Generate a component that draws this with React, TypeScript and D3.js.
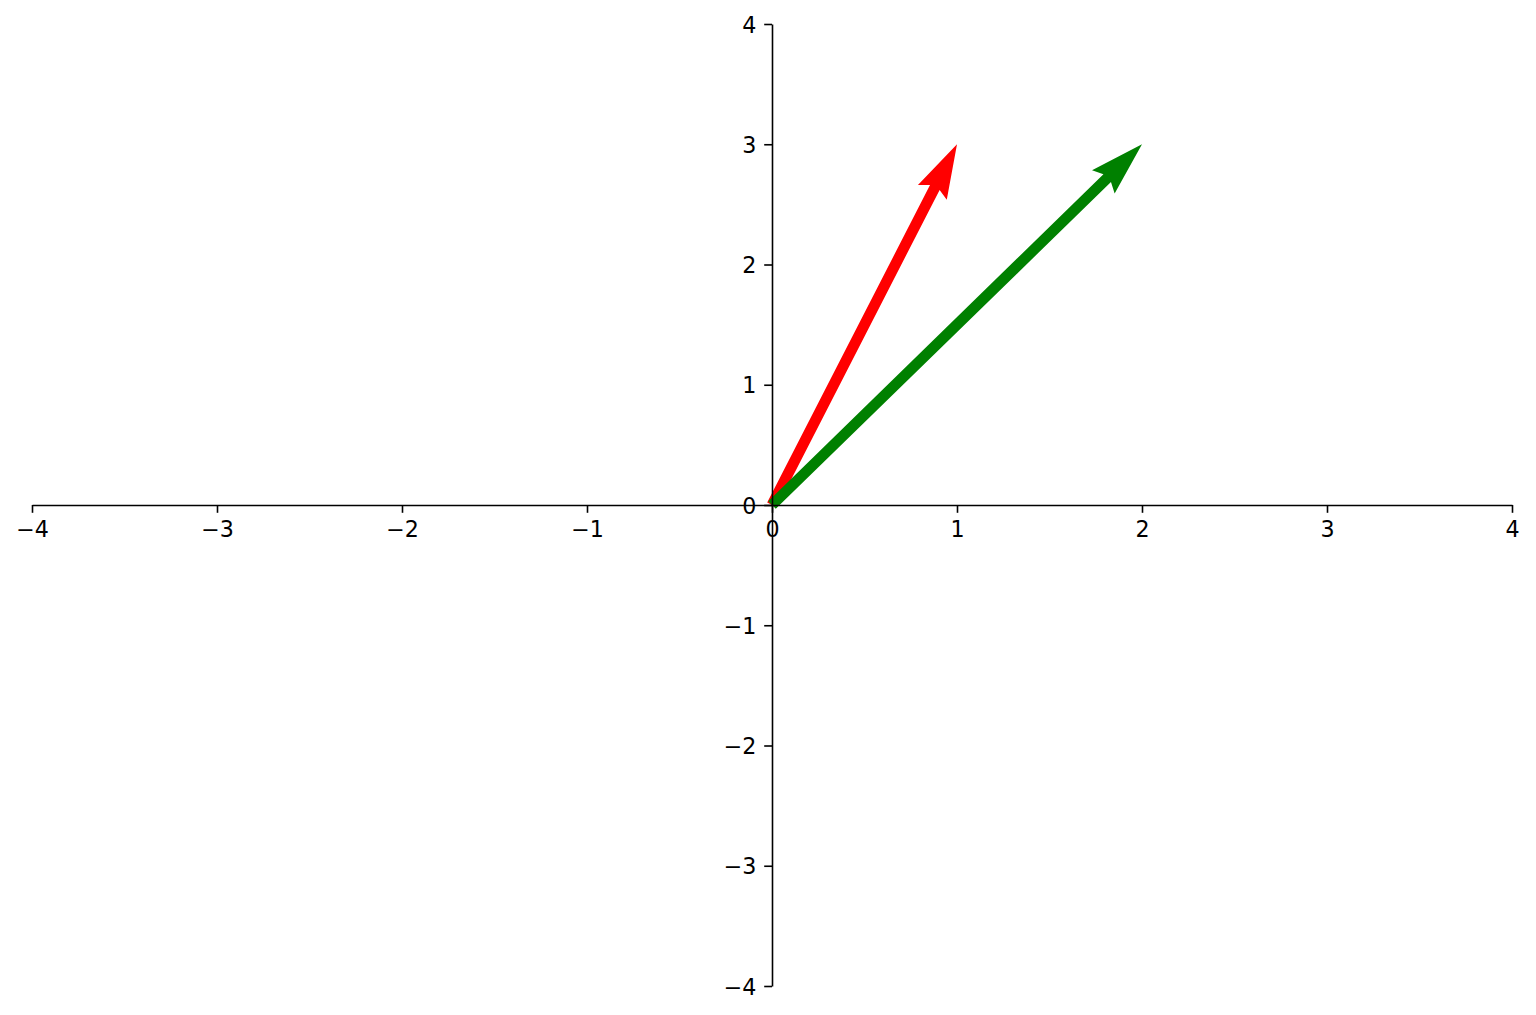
import { useEffect, useRef } from 'react';
import * as d3 from 'd3';

// ─── Data ───────────────────────────────────────────────────

const ORIGINS_X = [0, 0];
const ORIGINS_Y = [0, 0];
const VEC_U = [1, 2];
const VEC_V = [3, 3];
const VEC_COLORS = ['#ff0000', '#008000'];
const TICKS = [-4, -3, -2, -1, 0, 1, 2, 3, 4];

// ─── Layout ─────────────────────────────────────────────────

const W = 1536;
const H = 1015;
const PLOT = { left: 32, right: 1512, top: 24, bottom: 986 };
const FONT = '"DejaVu Sans", sans-serif';
const FONT_SIZE = 22.2;
const TICK_LEN = 7.8;
const TICK_PAD = 7.8;
const LINE_W = 1.6;
const SHAFT_W = 10.8;

const fmt = (v: number) => (v < 0 ? `\u2212${Math.abs(v)}` : `${v}`);

export default function App() {
  const svgRef = useRef<SVGSVGElement>(null);

  useEffect(() => {
    if (!svgRef.current) return;
    const svg = d3.select(svgRef.current);
    svg.selectAll('*').remove();

    const x = d3.scaleLinear().domain([-4, 4]).range([PLOT.left, PLOT.right]);
    const y = d3.scaleLinear().domain([-4, 4]).range([PLOT.bottom, PLOT.top]);

    svg.append('rect').attr('width', W).attr('height', H).attr('fill', '#fff');

    // Arrows (quiver-style polygons: shaft + head)
    const data = VEC_U.map((u, i) => ({
      x0: ORIGINS_X[i], y0: ORIGINS_Y[i], u, v: VEC_V[i], color: VEC_COLORS[i],
    }));
    const w = SHAFT_W;
    const hl = 5 * w, hal = 4.5 * w, hw = 1.5 * w;
    svg.append('g')
      .selectAll('path')
      .data(data)
      .join('path')
      .attr('fill', (d) => d.color)
      .attr('d', (d) => {
        const px0 = x(d.x0), py0 = y(d.y0);
        const px1 = x(d.x0 + d.u), py1 = y(d.y0 + d.v);
        const L = Math.hypot(px1 - px0, py1 - py0);
        const ang = Math.atan2(py1 - py0, px1 - px0);
        const pts: [number, number][] = [
          [0, -w / 2], [L - hal, -w / 2], [L - hl, -hw], [L, 0],
          [L - hl, hw], [L - hal, w / 2], [0, w / 2],
        ];
        const c = Math.cos(ang), s = Math.sin(ang);
        return d3.line()(pts.map(([a, b]) => [px0 + a * c - b * s, py0 + a * s + b * c])) + 'Z';
      });

    // X axis (centered spine)
    const gx = svg.append('g')
      .attr('transform', `translate(0,${y(0)})`)
      .call(d3.axisBottom(x).tickValues(TICKS).tickSize(TICK_LEN).tickSizeOuter(0).tickPadding(TICK_PAD).tickFormat((v) => fmt(+v)));
    gx.select('.domain').attr('stroke', '#000').attr('stroke-width', LINE_W);
    gx.selectAll('.tick line').attr('stroke', '#000').attr('stroke-width', LINE_W);
    gx.selectAll('.tick text')
      .attr('fill', '#000').attr('font-family', FONT).attr('font-size', FONT_SIZE).attr('dy', '0.73em');

    // Y axis (centered spine)
    const gy = svg.append('g')
      .attr('transform', `translate(${x(0)},0)`)
      .call(d3.axisLeft(y).tickValues(TICKS).tickSize(TICK_LEN).tickSizeOuter(0).tickPadding(TICK_PAD).tickFormat((v) => fmt(+v)));
    gy.select('.domain').attr('stroke', '#000').attr('stroke-width', LINE_W);
    gy.selectAll('.tick line').attr('stroke', '#000').attr('stroke-width', LINE_W);
    gy.selectAll('.tick text')
      .attr('fill', '#000').attr('font-family', FONT).attr('font-size', FONT_SIZE).attr('dy', '0.365em');
  }, []);

  return (
    <div>
      <style>{'body{margin:0}'}</style>
      <svg ref={svgRef} width={W} height={H} style={{ display: 'block' }} />
    </div>
  );
}
